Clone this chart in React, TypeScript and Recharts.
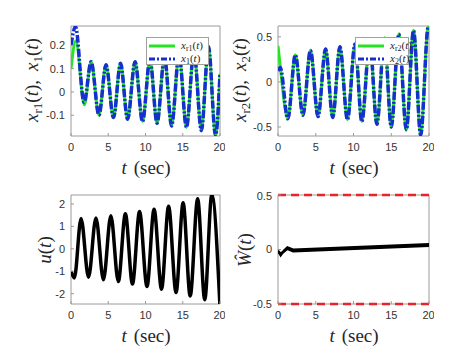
import React from "react";
import { LineChart, Line, XAxis, YAxis, ReferenceArea } from "recharts";

const T_TICKS = [0, 5, 10, 15, 20];
const X1_TICKS = [-0.1, 0, 0.1, 0.2];
const X2_TICKS = [-0.5, 0, 0.5];
const U_TICKS = [-2, -1, 0, 1, 2];
const W_TICKS = [-0.5, 0, 0.5];

// x1(t), peaks and troughs
const T_X1 = [0, 0.6, 1.75, 2.7, 3.75, 4.7, 5.7, 6.65, 7.6, 8.6, 9.6, 10.6, 11.55, 12.55, 13.5, 14.5, 15.5, 16.5, 17.5, 18.45, 19.4, 20];
const X1 = [0.2, 0.28, -0.045, 0.13, -0.1, 0.117, -0.11, 0.123, -0.117, 0.13, -0.127, 0.14, -0.134, 0.15, -0.146, 0.16, -0.152, 0.175, -0.166, 0.195, -0.187, 0.078];
// reference x_r1(t) only differs over the first ~2 s
const T_XR1 = [0, 0.65, 1.8, ...T_X1.slice(3)];
const XR1 = [0.1, 0.22, -0.055, ...X1.slice(3)];

// x2(t)
const T_X2 = [0, 0.3, 1.3, 2.3, 3.3, 4.3, 5.3, 6.3, 7.25, 8.2, 9.2, 10.2, 11.1, 12.15, 13.1, 14.1, 15.0, 16.0, 17.0, 17.95, 18.9, 19.9, 20];
const X2 = [0.12, 0.16, -0.41, 0.3, -0.37, 0.35, -0.385, 0.365, -0.395, 0.39, -0.42, 0.42, -0.44, 0.45, -0.47, 0.49, -0.5, 0.53, -0.53, 0.57, -0.59, 0.61, 0.6];
const T_XR2 = [0, 0.3, ...T_X2.slice(2)];
const XR2 = [0.4, 0.17, ...X2.slice(2)];

// u(t)
const T_U = [0, 0.45, 1.35, 2.35, 3.35, 4.35, 5.35, 6.35, 7.3, 8.25, 9.2, 10.2, 11.15, 12.15, 13.1, 14.1, 15.05, 16.0, 17.0, 17.95, 18.9, 20];
const U = [-1.0, -1.3, 1.35, -1.27, 1.38, -1.38, 1.47, -1.46, 1.56, -1.57, 1.66, -1.68, 1.77, -1.8, 1.9, -1.95, 2.05, -2.1, 2.23, -2.27, 2.42, -2.6];

// W-hat(t) weights + bounds
const T_W = [0, 0.35, 0.8, 1.25, 2, 20];
const W1 = [-0.01, -0.055, -0.01, 0.02, 0.0, 0.05];
const W2 = [-0.02, -0.045, -0.015, 0.012, -0.01, 0.04];
const W3 = [-0.015, -0.035, -0.02, 0.005, -0.018, 0.032];
const T_BOUND = [0, 20];
const W_UP = [0.5, 0.5];
const W_LO = [-0.5, -0.5];

const zip = (ts: number[], vs: number[]) => ts.map((t, i) => ({ t, v: vs[i] }));

const GREEN = "#25e325";
const BLUE = "#1630d0";
const AXIS = "#9a9a9a";
const TEXT = "#333";
const SERIF = "'Liberation Serif', 'Times New Roman', serif";
const SANS = "'Liberation Sans', Arial, sans-serif";
const DASHDOT = "8 2 2 2";

type Series = {
  data: { t: number; v: number }[];
  stroke: string;
  width: number;
  dash?: string;
  curve?: "monotone" | "linear";
};

type PanelProps = {
  left: number;
  top: number;
  w: number;
  h: number;
  yDomain: [number, number];
  yTicks: number[];
  series: Series[];
  clip?: boolean;
};

const ML = 45;
const MT = 5;
const MR = 5;
const MB = 30;

function Panel({ left, top, w, h, yDomain, yTicks, series, clip = true }: PanelProps) {
  const tickStyle = { fill: TEXT, fontSize: 11, fontFamily: SANS };
  return (
    <div style={{ position: "absolute", left: left - ML, top: top - MT }}>
      <LineChart
        width={w + ML + MR}
        height={h + MT + MB}
        margin={{ top: MT, right: MR, left: 5, bottom: 5 }}
      >
        <XAxis
          dataKey="t"
          type="number"
          domain={[0, 20]}
          ticks={T_TICKS}
          allowDataOverflow
          axisLine={false}
          tickLine={{ stroke: AXIS }}
          tickSize={-3}
          tickMargin={10}
          height={25}
          tick={tickStyle}
        />
        <XAxis
          xAxisId="top"
          orientation="top"
          type="number"
          domain={[0, 20]}
          ticks={T_TICKS}
          axisLine={false}
          tickLine={{ stroke: AXIS }}
          tickSize={-3}
          tick={false}
          height={0}
        />
        <YAxis
          type="number"
          domain={yDomain}
          ticks={yTicks}
          allowDataOverflow={clip}
          axisLine={false}
          tickLine={{ stroke: AXIS }}
          tickSize={-3}
          tickMargin={9}
          width={40}
          tick={tickStyle}
          tickFormatter={(v) => String(v)}
        />
        <YAxis
          yAxisId="right"
          orientation="right"
          type="number"
          domain={yDomain}
          ticks={yTicks}
          axisLine={false}
          tickLine={{ stroke: AXIS }}
          tickSize={-3}
          tick={false}
          width={0}
        />
        <ReferenceArea
          x1={0}
          x2={20}
          y1={yDomain[0]}
          y2={yDomain[1]}
          fill="none"
          stroke={AXIS}
          strokeWidth={1}
          ifOverflow="visible"
        />
        {series.map((s, i) => (
          <Line
            key={i}
            data={s.data}
            dataKey="v"
            type={s.curve ?? "monotone"}
            stroke={s.stroke}
            strokeWidth={s.width}
            strokeDasharray={s.dash}
            dot={false}
            activeDot={false}
            isAnimationActive={false}
          />
        ))}
      </LineChart>
    </div>
  );
}

function XTitle({ cx, cy }: { cx: number; cy: number }) {
  return (
    <div
      style={{
        position: "absolute",
        left: cx,
        top: cy,
        transform: "translate(-50%, -50%)",
        fontFamily: SERIF,
        fontSize: 19,
        color: "#262626",
        whiteSpace: "nowrap",
        lineHeight: 1,
      }}
    >
      <i>t</i>
      <span style={{ marginLeft: 7 }}>(sec)</span>
    </div>
  );
}

function YTitle({ cx, cy, children }: { cx: number; cy: number; children: React.ReactNode }) {
  return (
    <div
      style={{
        position: "absolute",
        left: cx,
        top: cy,
        transform: "translate(-50%, -50%) rotate(-90deg)",
        fontFamily: SERIF,
        fontSize: 19,
        color: "#262626",
        whiteSpace: "nowrap",
        lineHeight: 1,
      }}
    >
      {children}
    </div>
  );
}

const sub = { fontSize: 13, verticalAlign: "-0.25em" as const };

function LegendBox({
  left,
  top,
  width,
  labels,
}: {
  left: number;
  top: number;
  width: number;
  labels: React.ReactNode[];
}) {
  const styles = [
    { stroke: GREEN, dash: undefined as string | undefined },
    { stroke: BLUE, dash: "6 2 2 2" },
  ];
  return (
    <div
      style={{
        position: "absolute",
        left,
        top,
        width,
        height: 28,
        boxSizing: "border-box",
        border: "1px solid #a0a0a0",
        background: "#fff",
      }}
    >
      {labels.map((lab, i) => (
        <div
          key={i}
          style={{
            position: "absolute",
            left: 2,
            top: 1 + i * 13,
            height: 13,
            display: "flex",
            alignItems: "center",
            whiteSpace: "nowrap",
          }}
        >
          <svg width={26} height={6} style={{ display: "block" }}>
            <line
              x1={0}
              y1={3}
              x2={26}
              y2={3}
              stroke={styles[i].stroke}
              strokeWidth={3}
              strokeDasharray={styles[i].dash}
            />
          </svg>
          <span
            style={{
              marginLeft: 6,
              fontFamily: SERIF,
              fontSize: 11,
              color: "#262626",
            }}
          >
            {lab}
          </span>
        </div>
      ))}
    </div>
  );
}

export default function App() {
  const smallSub = { fontSize: 8, verticalAlign: "-0.25em" as const };
  return (
    <div
      style={{
        position: "absolute",
        left: 0,
        top: 0,
        width: 474,
        height: 355,
        background: "#fff",
        overflow: "hidden",
      }}
    >
      <Panel
        left={71}
        top={26}
        w={149}
        h={110}
        yDomain={[-0.189, 0.283]}
        yTicks={X1_TICKS}
        series={[
          { data: zip(T_XR1, XR1), stroke: GREEN, width: 3 },
          { data: zip(T_X1, X1), stroke: BLUE, width: 3.5, dash: DASHDOT },
        ]}
      />
      <Panel
        left={278}
        top={26}
        w={151}
        h={110}
        yDomain={[-0.6, 0.62]}
        yTicks={X2_TICKS}
        series={[
          { data: zip(T_XR2, XR2), stroke: GREEN, width: 3 },
          { data: zip(T_X2, X2), stroke: BLUE, width: 3.5, dash: DASHDOT },
        ]}
      />
      <Panel
        left={71}
        top={195}
        w={149}
        h={109}
        yDomain={[-2.46, 2.4]}
        yTicks={U_TICKS}
        series={[{ data: zip(T_U, U), stroke: "#000", width: 3.5 }]}
      />
      <Panel
        left={278}
        top={195}
        w={151}
        h={109}
        yDomain={[-0.5, 0.5]}
        yTicks={W_TICKS}
        clip={false}
        series={[
          { data: zip(T_W, W1), stroke: "#000", width: 2.2, curve: "linear" },
          { data: zip(T_W, W2), stroke: "#000", width: 2.2, curve: "linear" },
          { data: zip(T_W, W3), stroke: "#000", width: 2.2, curve: "linear" },
          { data: zip(T_BOUND, W_UP), stroke: "#e8232b", width: 2.5, dash: "8 5", curve: "linear" },
          { data: zip(T_BOUND, W_LO), stroke: "#e8232b", width: 2.5, dash: "8 5", curve: "linear" },
        ]}
      />

      <LegendBox
        left={146}
        top={37}
        width={63}
        labels={[
          <span key="a">
            <i>x</i>
            <span style={smallSub}>r1</span>(<i>t</i>)
          </span>,
          <span key="b">
            <i>x</i>
            <span style={smallSub}>1</span>(<i>t</i>)
          </span>,
        ]}
      />
      <LegendBox
        left={355}
        top={37}
        width={54}
        labels={[
          <span key="a">
            <i>x</i>
            <span style={smallSub}>r2</span>(<i>t</i>)
          </span>,
          <span key="b">
            <i>x</i>
            <span style={smallSub}>2</span>(<i>t</i>)
          </span>,
        ]}
      />

      <YTitle cx={33} cy={80}>
        <i>x</i>
        <span style={sub}>r1</span>(<i>t</i>),<span style={{ marginLeft: 9 }} />
        <i>x</i>
        <span style={sub}>1</span>(<i>t</i>)
      </YTitle>
      <YTitle cx={241} cy={80}>
        <i>x</i>
        <span style={sub}>r2</span>(<i>t</i>),<span style={{ marginLeft: 9 }} />
        <i>x</i>
        <span style={sub}>2</span>(<i>t</i>)
      </YTitle>
      <YTitle cx={44} cy={250}>
        <i>u</i>(<i>t</i>)
      </YTitle>
      <YTitle cx={244} cy={250}>
        <i>Ŵ</i>(<i>t</i>)
      </YTitle>

      <XTitle cx={146} cy={167} />
      <XTitle cx={354} cy={167} />
      <XTitle cx={146} cy={335} />
      <XTitle cx={354} cy={335} />
    </div>
  );
}
